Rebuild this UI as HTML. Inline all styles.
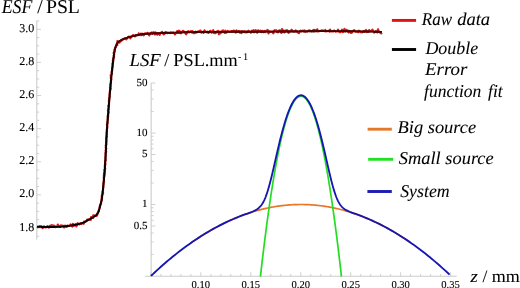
<!DOCTYPE html>
<html><head><meta charset="utf-8"><style>
html,body{margin:0;padding:0;background:#fff;}
body{width:520px;height:288px;overflow:hidden;}
svg{display:block;filter:blur(0.45px);}
text{text-rendering:geometricPrecision;font-family:"Liberation Serif","Times New Roman",serif;fill:#000;stroke:#000;stroke-width:0.12px;}
.tl{font-size:12px;}
.tl2{font-size:11px;}
.tl3{font-size:10.6px;}
.tx{stroke-width:0.06px;}
</style></head><body>
<svg width="520" height="288" viewBox="0 0 520 288">
<line x1="36.8" y1="20.4" x2="36.8" y2="239.5" stroke="#cbcbcb" stroke-width="1.1"/>
<line x1="36.8" y1="236.24" x2="39.2" y2="236.24" stroke="#cbcbcb" stroke-width="0.9"/>
<line x1="36.8" y1="227.96" x2="41" y2="227.96" stroke="#cbcbcb" stroke-width="0.9"/>
<line x1="36.8" y1="219.68" x2="39.2" y2="219.68" stroke="#cbcbcb" stroke-width="0.9"/>
<line x1="36.8" y1="211.41" x2="39.2" y2="211.41" stroke="#cbcbcb" stroke-width="0.9"/>
<line x1="36.8" y1="203.13" x2="39.2" y2="203.13" stroke="#cbcbcb" stroke-width="0.9"/>
<line x1="36.8" y1="194.85" x2="41" y2="194.85" stroke="#cbcbcb" stroke-width="0.9"/>
<line x1="36.8" y1="186.57" x2="39.2" y2="186.57" stroke="#cbcbcb" stroke-width="0.9"/>
<line x1="36.8" y1="178.29" x2="39.2" y2="178.29" stroke="#cbcbcb" stroke-width="0.9"/>
<line x1="36.8" y1="170.02" x2="39.2" y2="170.02" stroke="#cbcbcb" stroke-width="0.9"/>
<line x1="36.8" y1="161.74" x2="41" y2="161.74" stroke="#cbcbcb" stroke-width="0.9"/>
<line x1="36.8" y1="153.46" x2="39.2" y2="153.46" stroke="#cbcbcb" stroke-width="0.9"/>
<line x1="36.8" y1="145.19" x2="39.2" y2="145.19" stroke="#cbcbcb" stroke-width="0.9"/>
<line x1="36.8" y1="136.91" x2="39.2" y2="136.91" stroke="#cbcbcb" stroke-width="0.9"/>
<line x1="36.8" y1="128.63" x2="41" y2="128.63" stroke="#cbcbcb" stroke-width="0.9"/>
<line x1="36.8" y1="120.35" x2="39.2" y2="120.35" stroke="#cbcbcb" stroke-width="0.9"/>
<line x1="36.8" y1="112.08" x2="39.2" y2="112.08" stroke="#cbcbcb" stroke-width="0.9"/>
<line x1="36.8" y1="103.8" x2="39.2" y2="103.8" stroke="#cbcbcb" stroke-width="0.9"/>
<line x1="36.8" y1="95.52" x2="41" y2="95.52" stroke="#cbcbcb" stroke-width="0.9"/>
<line x1="36.8" y1="87.24" x2="39.2" y2="87.24" stroke="#cbcbcb" stroke-width="0.9"/>
<line x1="36.8" y1="78.96" x2="39.2" y2="78.96" stroke="#cbcbcb" stroke-width="0.9"/>
<line x1="36.8" y1="70.69" x2="39.2" y2="70.69" stroke="#cbcbcb" stroke-width="0.9"/>
<line x1="36.8" y1="62.41" x2="41" y2="62.41" stroke="#cbcbcb" stroke-width="0.9"/>
<line x1="36.8" y1="54.13" x2="39.2" y2="54.13" stroke="#cbcbcb" stroke-width="0.9"/>
<line x1="36.8" y1="45.85" x2="39.2" y2="45.85" stroke="#cbcbcb" stroke-width="0.9"/>
<line x1="36.8" y1="37.58" x2="39.2" y2="37.58" stroke="#cbcbcb" stroke-width="0.9"/>
<line x1="36.8" y1="29.3" x2="41" y2="29.3" stroke="#cbcbcb" stroke-width="0.9"/>
<line x1="36.8" y1="21.02" x2="39.2" y2="21.02" stroke="#cbcbcb" stroke-width="0.9"/>
<text x="34.3" y="31.9" class="tl" text-anchor="end">3.0</text>
<text x="34.3" y="65.01" class="tl" text-anchor="end">2.8</text>
<text x="34.3" y="98.12" class="tl" text-anchor="end">2.6</text>
<text x="34.3" y="131.23" class="tl" text-anchor="end">2.4</text>
<text x="34.3" y="164.34" class="tl" text-anchor="end">2.2</text>
<text x="34.3" y="197.45" class="tl" text-anchor="end">2.0</text>
<text x="34.3" y="230.56" class="tl" text-anchor="end">1.8</text>
<polyline points="37,226.8 37.81,227.1 38.6,226.61 39.39,226.08 40.19,226.49 40.99,226.03 41.8,226.99 42.61,228.16 43.4,226.52 44.2,226.42 45,227.43 45.8,227.32 46.6,227.09 47.4,226.16 48.2,226.97 49,227.62 49.79,225.78 50.6,226.57 51.39,225.26 52.19,225.8 52.98,225.29 53.8,226.72 54.58,225.77 55.4,227.14 56.2,227.02 57,226.69 57.76,224.57 58.59,226.33 59.4,226.74 60.2,226.85 60.94,225.33 61.78,226.22 62.55,225.71 63.36,225.78 64.26,227.38 64.95,225.62 65.8,226.22 66.66,226.94 67.36,225.52 68.19,225.84 69.01,225.92 69.8,225.77 70.51,224.51 71.41,225.55 72.32,226.56 72.86,223.85 73.88,225.84 74.61,225.04 75.33,224.21 76.43,226.36 77.09,225.09 77.64,223.19 78.61,224.1 79.48,224.33 80.17,223.44 81.11,223.96 81.79,223.07 82.73,223.43 83.71,223.75 84.04,221.66 85.05,221.98 85.68,221.03 86.63,221.05 87.08,219.57 88.04,219.58 88.95,219.41 90.04,219.82 90.89,219.58 91.06,217.19 91.99,217.17 93.18,217.83 93.2,215.35 94.45,215.96 95.37,215.63 96.67,215.87 97.29,214.62 97.55,213.36 97.93,212.59 98.27,211.84 98.97,211.29 98.8,210.25 99.08,209.52 99.45,208.83 99.55,208.01 99.74,207.22 99.72,206.33 100.19,205.63 100.29,204.76 100.88,204.11 100.98,203.25 101.03,202.43 101.39,201.76 101.31,200.97 101.79,200.37 101.67,199.6 101.94,198.92 101.6,198.09 102.1,197.45 101.72,196.62 101.73,195.87 102.25,195.21 102.2,194.43 102.54,193.73 103.13,193.06 102.48,192.17 102.61,191.42 102.9,190.69 103.05,189.93 102.97,189.13 103.04,188.36 103.34,187.62 103.37,186.84 103.07,186 103.38,185.25 103.48,184.47 103.3,183.64 103.69,182.91 103.49,182.09 104.01,181.39 103.89,180.6 103.94,179.84 103.84,179.07 104.02,178.34 103.63,177.53 103.91,176.81 104.33,176.1 103.79,175.27 104.58,174.61 104.01,173.78 104.67,173.1 104.34,172.3 104.8,171.59 104.7,170.82 104.35,170.02 105.08,169.34 105.18,168.59 104.87,167.79 104.87,167.03 104.95,166.27 104.8,165.5 105.36,164.8 105.01,164.02 105.18,163.3 105.04,162.57 105.13,161.86 105.02,161.15 105.67,160.52 105.37,159.81 105.69,159.15 105.5,158.43 105.36,157.71 105.49,157 105.48,156.28 105.65,155.56 105.6,154.81 105.65,154.06 105.43,153.29 105.6,152.54 106.24,151.81 105.71,150.99 105.65,150.2 106.03,149.44 106.32,148.66 105.67,147.81 106,147.02 105.94,146.19 105.7,145.34 106.35,144.56 106.2,143.7 106.26,142.86 106.1,141.98 106.43,141.14 106.23,140.25 106.37,139.37 106.18,138.45 106.2,137.54 106.86,136.69 106.46,135.72 106.7,134.81 106.67,133.88 106.62,132.94 106.65,132.03 106.98,131.16 106.81,130.25 106.9,129.4 107,128.56 107.33,127.74 107.27,126.88 107.26,126.02 107.09,125.15 106.95,124.28 107.57,123.51 107.64,122.67 107.43,121.79 107.66,120.98 107.78,120.15 107.86,119.32 107.95,118.49 107.68,117.61 108.22,116.85 107.62,115.93 108.2,115.18 108.18,114.35 108.34,113.54 108.65,112.76 108.63,111.94 108.06,111.04 108,110.21 108.67,109.49 108.3,108.63 108.61,107.86 108.89,107.1 108.36,106.22 108.32,105.41 108.96,104.7 108.97,103.91 108.97,103.11 109.11,102.34 108.96,101.52 108.87,100.7 109.26,99.95 109.14,99.12 109.04,98.3 109.63,97.57 109.56,96.74 109.74,95.95 109.47,95.1 109.62,94.3 109.61,93.48 109.7,92.68 110.03,91.9 109.87,91.06 110.21,90.28 110.28,89.47 110.76,88.71 110,87.77 110.63,87.04 110.46,86.18 110.55,85.36 110.28,84.49 110.6,83.7 110.96,82.92 110.84,82.06 110.96,81.24 110.94,80.4 111.37,79.63 111.17,78.77 110.72,77.87 111.17,77.12 110.94,76.26 110.71,75.39 111.45,74.69 111.99,73.95 111.76,73.08 111.55,72.21 111.69,71.4 112.27,70.67 112.13,69.81 112.19,68.98 112.25,68.15 112.37,67.33 112.64,66.53 112.68,65.69 112.69,64.84 112.48,63.94 112.96,63.19 112.77,62.28 113.3,61.54 112.84,60.58 113.22,59.83 113.36,59.03 113.15,58.15 114,57.51 114.05,56.67 113.7,55.73 114.11,54.97 114.14,54.1 113.55,53.04 114.37,52.36 114.44,51.45 114.64,50.56 114.55,49.52 114.95,48.71 115.22,47.87 115.81,47.23 115.93,46.28 116.21,45.4 117.33,45.23 116.75,43.54 117.31,42.77 117.41,41.02 119.38,42.65 119.95,41.69 120.72,41.21 121.44,40.59 122.11,39.75 122.93,39.48 123.63,38.77 124.44,38.5 125.29,38.42 126.35,39.38 126.98,38.3 127.67,37.51 128.39,36.81 129.19,36.53 130.31,38.24 130.95,37.07 131.69,36.48 132.44,35.92 133.15,35.06 134.07,35.8 134.98,36.45 135.64,35.17 136.46,35.15 137.26,35 138.09,35.12 138.71,33.46 139.66,34.49 140.4,33.79 141.36,35.18 142.02,33.58 142.92,34.65 143.78,35.4 144.47,33.66 145.26,33.34 146.09,33.99 146.88,33.76 147.65,32.82 148.5,34.07 149.35,35.42 150.07,33.33 150.88,33.33 151.65,32.53 152.49,33.72 153.25,32.27 154.06,32.36 154.91,34.47 155.66,32.47 156.51,34.23 157.31,34.59 158.09,33.42 158.89,33.66 159.72,34.89 160.48,32.93 161.27,32.55 162.06,31.83 162.88,33.06 163.71,34.33 164.5,33.84 165.27,32.1 166.07,32.16 166.87,32.45 167.69,33.14 168.48,32.67 169.29,33.02 170.09,33.06 170.88,32.5 171.68,32.71 172.49,32.9 173.28,32.61 174.09,33.11 174.92,34.32 175.69,33.14 176.48,32.63 177.25,31.04 178.09,32.88 178.85,30.75 179.66,31.21 180.5,33.22 181.29,33.06 182.08,32.26 182.85,30.83 183.68,32.01 184.47,31.71 185.29,32.87 186.12,34.31 186.89,32.45 187.67,31.53 188.47,31.16 189.28,32.14 190.08,32.01 190.87,31.12 191.68,32.24 192.47,31.08 193.29,33.1 194.09,33.04 194.89,33.05 195.68,31.63 196.49,32.51 197.28,31.91 198.08,31.67 198.88,31.71 199.68,30.83 200.48,30.7 201.29,32.7 202.08,31.81 202.88,32.17 203.69,32.87 204.47,30.4 205.28,31.25 206.08,32.11 206.88,32.3 207.68,31.6 208.49,32.86 209.28,32.12 210.08,30.83 210.88,31.08 211.68,32.64 212.48,32.33 213.28,30.19 214.09,33.11 214.88,32.43 215.69,33.1 216.48,31.54 217.28,31.62 218.08,30.86 218.89,34.16 219.68,31.71 220.49,33.29 221.28,31.28 222.08,32.01 222.88,30.35 223.68,31.51 224.48,32.73 225.28,30.72 226.08,32.81 226.88,32.14 227.68,30.9 228.48,31.38 229.28,31.42 230.08,31.78 230.88,31.34 231.68,31.08 232.48,31.54 233.28,30.89 234.08,30.65 234.88,31.77 235.68,32.6 236.48,30.43 237.28,31.8 238.08,31.21 238.88,30.92 239.68,32.56 240.48,31.32 241.29,33.14 242.08,31.08 242.88,32.13 243.68,31.57 244.48,31.1 245.28,32.3 246.08,31.63 246.88,32.31 247.68,31.72 248.48,30.78 249.28,31.66 250.08,31.8 250.88,32.61 251.68,30.93 252.48,31.71 253.28,30.19 254.08,32.32 254.88,30.76 255.68,30.1 256.48,31.67 257.29,32.71 258.08,30.34 258.88,30.73 259.68,31.03 260.48,30.68 261.28,32.03 262.08,30.96 262.88,31.03 263.68,32.2 264.48,30.99 265.28,32.06 266.08,30.79 266.88,30.57 267.68,30 268.49,33.32 269.28,31.35 270.08,31.85 270.88,31.6 271.68,31.77 272.48,31.66 273.29,33.33 274.08,30.67 274.88,30.2 275.68,30.68 276.48,30.39 277.29,32.26 278.09,32.32 278.88,30.71 279.68,30.31 280.48,31.24 281.29,32.8 282.07,29.01 282.88,32.01 283.68,30.57 284.49,32.46 285.28,30.55 286.08,31.26 286.88,30.15 287.68,30.62 288.49,32.74 289.29,32.23 290.08,31.12 290.88,30.69 291.67,29.77 292.48,31.11 293.28,31.43 294.08,31.37 294.88,31.36 295.68,30.43 296.48,31.37 297.28,31.39 298.09,32.58 298.89,33.09 299.68,31.28 300.48,30.71 301.28,31.33 302.08,30.83 302.88,30.7 303.68,31.31 304.48,30.42 305.29,31.89 306.08,31.24 306.88,31.55 307.68,31.15 308.48,30.65 309.28,30.44 310.08,31.07 310.88,30.78 311.68,31.47 312.48,31.25 313.27,30.01 314.08,31.29 314.87,30.01 315.68,30.65 316.48,30.93 317.27,29.32 318.08,31.26 318.88,31.31 319.68,31.02 320.48,30.77 321.28,30.81 322.08,30.26 322.88,30.89 323.68,30.63 324.48,31.2 325.28,30.03 326.08,31.32 326.88,31.24 327.68,30.98 328.48,30.71 329.28,31.6 330.08,29.6 330.88,31.51 331.68,31.32 332.48,31.36 333.28,31.45 334.08,30.52 334.88,30.88 335.68,31.69 336.48,31.51 337.28,31.31 338.08,29.77 338.88,31.62 339.69,32.2 340.49,32.06 341.28,31.37 342.07,29.76 342.89,32.02 343.68,31.05 344.47,28.91 345.28,31.54 346.07,29.87 346.87,30.05 347.68,30.66 348.49,32.38 349.28,30.92 350.08,31.5 350.9,32.84 351.69,32.72 352.48,31.2 353.28,31.09 354.07,30.18 354.88,30.7 355.69,31.72 356.49,31.71 357.28,31.46 358.09,32.27 358.88,30.69 359.68,31.35 360.49,32.07 361.29,31.94 362.09,32.4 362.89,31.8 363.68,31.18 364.49,31.8 365.27,30.59 366.06,30.03 366.89,32.04 367.68,31.49 368.49,31.83 369.26,30.04 370.08,31.26 370.87,31.07 371.67,30.85 372.45,29.62 373.28,31.37 374.09,32.49 374.89,32.05 375.67,31.19 376.48,31.74 377.29,32.45 378.04,29.31 378.88,31.7 379.69,32.32 380.49,32.47 381.31,33.41 382.08,32.92" fill="none" stroke="#e01818" stroke-width="2.2" stroke-linejoin="round"/>
<polyline points="37,226.8 37.5,226.82 38,226.83 38.5,226.85 39,226.87 39.5,226.88 40,226.9 40.5,226.91 41,226.92 41.5,226.93 42,226.94 42.5,226.95 43,226.96 43.5,226.97 44,226.98 44.5,226.98 45,226.99 45.5,226.99 46,227 46.5,227 47,227 47.5,227 48,227 48.5,227 49,227 49.5,226.99 50,226.99 50.5,226.98 51,226.98 51.5,226.97 52,226.96 52.5,226.96 53,226.95 53.5,226.94 54,226.93 54.5,226.92 55,226.91 55.5,226.89 56,226.88 56.5,226.87 57,226.86 57.5,226.84 58,226.83 58.5,226.81 59,226.8 59.5,226.78 60,226.76 60.5,226.74 61,226.7 61.5,226.67 62,226.63 62.5,226.59 63,226.55 63.5,226.5 64,226.45 64.5,226.4 65,226.34 65.5,226.28 66,226.22 66.5,226.16 67,226.09 67.5,226.03 68,225.96 68.5,225.89 69,225.82 69.5,225.76 70,225.68 70.5,225.61 71,225.54 71.5,225.47 72,225.39 72.5,225.31 73,225.22 73.5,225.14 74,225.05 74.5,224.95 75,224.85 75.5,224.75 76,224.65 76.5,224.54 77,224.42 77.5,224.31 78,224.19 78.5,224.06 79,223.93 79.5,223.8 80,223.66 80.5,223.52 81,223.37 81.5,223.22 82,223.06 82.5,222.9 83,222.72 83.5,222.52 84,222.3 84.5,222.06 85,221.81 85.5,221.55 86,221.29 86.5,221.01 87,220.72 87.5,220.44 88,220.15 88.5,219.86 89,219.57 89.5,219.28 90,219 90.5,218.72 91,218.45 91.5,218.18 92,217.91 92.5,217.63 93,217.33 93.5,217.03 94,216.71 94.5,216.37 95,216 95.5,215.62 96,215.22 96.5,214.77 97,214.24 97.5,213.6 98,212.68 98.5,211.42 99,210 99.5,208.33 100,206.39 100.5,204.4 101,202.57 101.5,200.5 102,197.58 102.5,193.75 103,189.23 103.5,184.22 104,178.91 104.5,172.96 105,166.11 105.5,158.32 106,148.24 106.5,137.38 107,128.46 107.5,121.36 108,115.05 108.5,109.2 109,103.49 109.5,97.63 110,91.74 110.5,86.01 111,80.57 111.5,75.5 112,70.64 112.5,66.04 113,61.81 113.5,58.02 114,54.39 114.5,51.19 115,48.8 115.5,47.17 116,45.88 116.5,44.8 117,43.81 117.5,42.95 118,42.3 118.5,41.82 119,41.42 119.5,41.06 120,40.75 120.5,40.47 121,40.2 121.5,39.94 122,39.7 122.5,39.47 123,39.25 123.5,39.05 124,38.85 124.5,38.66 125,38.48 125.5,38.3 126,38.12 126.5,37.95 127,37.78 127.5,37.62 128,37.46 128.5,37.31 129,37.16 129.5,37.01 130,36.87 130.5,36.73 131,36.6 131.5,36.47 132,36.34 132.5,36.22 133,36.1 133.5,35.99 134,35.87 134.5,35.76 135,35.66 135.5,35.55 136,35.45 136.5,35.35 137,35.25 137.5,35.15 138,35.04 138.5,34.94 139,34.84 139.5,34.74 140,34.64 140.5,34.54 141,34.45 141.5,34.36 142,34.27 142.5,34.19 143,34.12 143.5,34.05 144,33.99 144.5,33.94 145,33.9 145.5,33.86 146,33.82 146.5,33.79 147,33.75 147.5,33.72 148,33.69 148.5,33.66 149,33.62 149.5,33.59 150,33.56 150.5,33.54 151,33.51 151.5,33.48 152,33.46 152.5,33.43 153,33.41 153.5,33.38 154,33.36 154.5,33.34 155,33.31 155.5,33.29 156,33.27 156.5,33.25 157,33.23 157.5,33.21 158,33.19 158.5,33.18 159,33.16 159.5,33.14 160,33.12 160.5,33.1 161,33.09 161.5,33.07 162,33.05 162.5,33.04 163,33.02 163.5,33.01 164,32.99 164.5,32.98 165,32.96 165.5,32.94 166,32.93 166.5,32.91 167,32.9 167.5,32.88 168,32.87 168.5,32.85 169,32.83 169.5,32.82 170,32.8 170.5,32.78 171,32.77 171.5,32.75 172,32.73 172.5,32.72 173,32.7 173.5,32.68 174,32.66 174.5,32.65 175,32.63 175.5,32.61 176,32.6 176.5,32.58 177,32.56 177.5,32.55 178,32.53 178.5,32.51 179,32.5 179.5,32.48 180,32.46 180.5,32.45 181,32.43 181.5,32.42 182,32.4 182.5,32.38 183,32.37 183.5,32.35 184,32.34 184.5,32.32 185,32.31 185.5,32.29 186,32.28 186.5,32.27 187,32.25 187.5,32.24 188,32.22 188.5,32.21 189,32.2 189.5,32.19 190,32.17 190.5,32.16 191,32.15 191.5,32.14 192,32.13 192.5,32.12 193,32.11 193.5,32.1 194,32.09 194.5,32.08 195,32.07 195.5,32.06 196,32.05 196.5,32.04 197,32.04 197.5,32.03 198,32.02 198.5,32.02 199,32.01 199.5,32 200,32 200.5,32 201,31.99 201.5,31.99 202,31.98 202.5,31.98 203,31.97 203.5,31.97 204,31.97 204.5,31.96 205,31.96 205.5,31.95 206,31.95 206.5,31.95 207,31.94 207.5,31.94 208,31.94 208.5,31.93 209,31.93 209.5,31.93 210,31.92 210.5,31.92 211,31.92 211.5,31.91 212,31.91 212.5,31.91 213,31.9 213.5,31.9 214,31.9 214.5,31.9 215,31.89 215.5,31.89 216,31.89 216.5,31.89 217,31.88 217.5,31.88 218,31.88 218.5,31.88 219,31.87 219.5,31.87 220,31.87 220.5,31.87 221,31.86 221.5,31.86 222,31.86 222.5,31.86 223,31.85 223.5,31.85 224,31.85 224.5,31.85 225,31.85 225.5,31.84 226,31.84 226.5,31.84 227,31.84 227.5,31.84 228,31.83 228.5,31.83 229,31.83 229.5,31.83 230,31.83 230.5,31.83 231,31.82 231.5,31.82 232,31.82 232.5,31.82 233,31.82 233.5,31.81 234,31.81 234.5,31.81 235,31.81 235.5,31.81 236,31.81 236.5,31.8 237,31.8 237.5,31.8 238,31.8 238.5,31.8 239,31.79 239.5,31.79 240,31.79 240.5,31.79 241,31.79 241.5,31.79 242,31.78 242.5,31.78 243,31.78 243.5,31.78 244,31.78 244.5,31.77 245,31.77 245.5,31.77 246,31.77 246.5,31.77 247,31.76 247.5,31.76 248,31.76 248.5,31.76 249,31.76 249.5,31.75 250,31.75 250.5,31.75 251,31.75 251.5,31.75 252,31.74 252.5,31.74 253,31.74 253.5,31.74 254,31.73 254.5,31.73 255,31.73 255.5,31.73 256,31.72 256.5,31.72 257,31.72 257.5,31.71 258,31.71 258.5,31.71 259,31.71 259.5,31.7 260,31.7 260.5,31.7 261,31.69 261.5,31.69 262,31.69 262.5,31.68 263,31.68 263.5,31.68 264,31.68 264.5,31.67 265,31.67 265.5,31.67 266,31.66 266.5,31.66 267,31.66 267.5,31.65 268,31.65 268.5,31.65 269,31.64 269.5,31.64 270,31.64 270.5,31.63 271,31.63 271.5,31.62 272,31.62 272.5,31.62 273,31.61 273.5,31.61 274,31.61 274.5,31.6 275,31.6 275.5,31.6 276,31.59 276.5,31.59 277,31.59 277.5,31.58 278,31.58 278.5,31.57 279,31.57 279.5,31.57 280,31.56 280.5,31.56 281,31.56 281.5,31.55 282,31.55 282.5,31.54 283,31.54 283.5,31.54 284,31.53 284.5,31.53 285,31.52 285.5,31.52 286,31.52 286.5,31.51 287,31.51 287.5,31.5 288,31.5 288.5,31.5 289,31.49 289.5,31.49 290,31.48 290.5,31.48 291,31.48 291.5,31.47 292,31.47 292.5,31.46 293,31.46 293.5,31.46 294,31.45 294.5,31.45 295,31.44 295.5,31.44 296,31.43 296.5,31.43 297,31.43 297.5,31.42 298,31.42 298.5,31.41 299,31.41 299.5,31.4 300,31.4 300.5,31.4 301,31.39 301.5,31.39 302,31.38 302.5,31.38 303,31.37 303.5,31.37 304,31.36 304.5,31.35 305,31.35 305.5,31.34 306,31.34 306.5,31.33 307,31.32 307.5,31.32 308,31.31 308.5,31.3 309,31.3 309.5,31.29 310,31.28 310.5,31.28 311,31.27 311.5,31.26 312,31.26 312.5,31.25 313,31.24 313.5,31.24 314,31.23 314.5,31.22 315,31.22 315.5,31.21 316,31.2 316.5,31.2 317,31.19 317.5,31.19 318,31.18 318.5,31.17 319,31.17 319.5,31.16 320,31.16 320.5,31.15 321,31.15 321.5,31.14 322,31.14 322.5,31.13 323,31.13 323.5,31.13 324,31.12 324.5,31.12 325,31.12 325.5,31.11 326,31.11 326.5,31.11 327,31.11 327.5,31.1 328,31.1 328.5,31.1 329,31.1 329.5,31.1 330,31.1 330.5,31.1 331,31.1 331.5,31.1 332,31.1 332.5,31.1 333,31.1 333.5,31.11 334,31.11 334.5,31.11 335,31.11 335.5,31.11 336,31.12 336.5,31.12 337,31.12 337.5,31.13 338,31.13 338.5,31.13 339,31.14 339.5,31.14 340,31.15 340.5,31.15 341,31.16 341.5,31.16 342,31.16 342.5,31.17 343,31.17 343.5,31.18 344,31.19 344.5,31.19 345,31.2 345.5,31.2 346,31.21 346.5,31.21 347,31.22 347.5,31.23 348,31.23 348.5,31.24 349,31.25 349.5,31.25 350,31.26 350.5,31.27 351,31.27 351.5,31.28 352,31.29 352.5,31.29 353,31.3 353.5,31.31 354,31.31 354.5,31.32 355,31.33 355.5,31.34 356,31.34 356.5,31.35 357,31.36 357.5,31.36 358,31.37 358.5,31.38 359,31.39 359.5,31.39 360,31.4 360.5,31.41 361,31.41 361.5,31.42 362,31.43 362.5,31.44 363,31.45 363.5,31.46 364,31.46 364.5,31.47 365,31.48 365.5,31.49 366,31.5 366.5,31.51 367,31.52 367.5,31.53 368,31.54 368.5,31.55 369,31.57 369.5,31.58 370,31.59 370.5,31.6 371,31.61 371.5,31.62 372,31.64 372.5,31.65 373,31.66 373.5,31.67 374,31.68 374.5,31.7 375,31.71 375.5,31.72 376,31.74 376.5,31.75 377,31.76 377.5,31.78 378,31.79 378.5,31.8 379,31.82 379.5,31.83 380,31.84 380.5,31.86 381,31.87 381.5,31.89 382,31.9" fill="none" stroke="#000" stroke-width="1.9" stroke-linejoin="round"/>
<polyline points="114,54.39 114.5,51.19 115,48.8 115.5,47.17 116,45.88 116.5,44.8 117,43.81 117.5,42.95 118,42.3 118.5,41.82 119,41.42 119.5,41.06 120,40.75 120.5,40.47 121,40.2 121.5,39.94 122,39.7 122.5,39.47 123,39.25 123.5,39.05 124,38.85 124.5,38.66 125,38.48 125.5,38.3 126,38.12 126.5,37.95 127,37.78 127.5,37.62 128,37.46 128.5,37.31 129,37.16 129.5,37.01 130,36.87 130.5,36.73 131,36.6 131.5,36.47 132,36.34 132.5,36.22 133,36.1 133.5,35.99 134,35.87 134.5,35.76 135,35.66 135.5,35.55 136,35.45 136.5,35.35 137,35.25 137.5,35.15 138,35.04 138.5,34.94 139,34.84 139.5,34.74 140,34.64 140.5,34.54 141,34.45 141.5,34.36 142,34.27 142.5,34.19 143,34.12 143.5,34.05 144,33.99 144.5,33.94 145,33.9 145.5,33.86 146,33.82 146.5,33.79 147,33.75 147.5,33.72 148,33.69 148.5,33.66 149,33.62 149.5,33.59 150,33.56 150.5,33.54 151,33.51 151.5,33.48 152,33.46 152.5,33.43 153,33.41 153.5,33.38 154,33.36 154.5,33.34 155,33.31 155.5,33.29 156,33.27 156.5,33.25 157,33.23 157.5,33.21 158,33.19 158.5,33.18 159,33.16 159.5,33.14 160,33.12 160.5,33.1 161,33.09 161.5,33.07 162,33.05 162.5,33.04 163,33.02 163.5,33.01 164,32.99 164.5,32.98 165,32.96 165.5,32.94 166,32.93 166.5,32.91 167,32.9 167.5,32.88 168,32.87 168.5,32.85 169,32.83 169.5,32.82 170,32.8 170.5,32.78 171,32.77 171.5,32.75 172,32.73 172.5,32.72 173,32.7 173.5,32.68 174,32.66 174.5,32.65 175,32.63 175.5,32.61 176,32.6 176.5,32.58 177,32.56 177.5,32.55 178,32.53 178.5,32.51 179,32.5 179.5,32.48 180,32.46 180.5,32.45 181,32.43 181.5,32.42 182,32.4 182.5,32.38 183,32.37 183.5,32.35 184,32.34 184.5,32.32 185,32.31 185.5,32.29 186,32.28 186.5,32.27 187,32.25 187.5,32.24 188,32.22 188.5,32.21 189,32.2 189.5,32.19 190,32.17 190.5,32.16 191,32.15 191.5,32.14 192,32.13 192.5,32.12 193,32.11 193.5,32.1 194,32.09 194.5,32.08 195,32.07 195.5,32.06 196,32.05 196.5,32.04 197,32.04 197.5,32.03 198,32.02 198.5,32.02 199,32.01 199.5,32 200,32 200.5,32 201,31.99 201.5,31.99 202,31.98 202.5,31.98 203,31.97 203.5,31.97 204,31.97 204.5,31.96 205,31.96 205.5,31.95 206,31.95 206.5,31.95 207,31.94 207.5,31.94 208,31.94 208.5,31.93 209,31.93 209.5,31.93 210,31.92 210.5,31.92 211,31.92 211.5,31.91 212,31.91 212.5,31.91 213,31.9 213.5,31.9 214,31.9 214.5,31.9 215,31.89 215.5,31.89 216,31.89 216.5,31.89 217,31.88 217.5,31.88 218,31.88 218.5,31.88 219,31.87 219.5,31.87 220,31.87 220.5,31.87 221,31.86 221.5,31.86 222,31.86 222.5,31.86 223,31.85 223.5,31.85 224,31.85 224.5,31.85 225,31.85 225.5,31.84 226,31.84 226.5,31.84 227,31.84 227.5,31.84 228,31.83 228.5,31.83 229,31.83 229.5,31.83 230,31.83 230.5,31.83 231,31.82 231.5,31.82 232,31.82 232.5,31.82 233,31.82 233.5,31.81 234,31.81 234.5,31.81 235,31.81 235.5,31.81 236,31.81 236.5,31.8 237,31.8 237.5,31.8 238,31.8 238.5,31.8 239,31.79 239.5,31.79 240,31.79 240.5,31.79 241,31.79 241.5,31.79 242,31.78 242.5,31.78 243,31.78 243.5,31.78 244,31.78 244.5,31.77 245,31.77 245.5,31.77 246,31.77 246.5,31.77 247,31.76 247.5,31.76 248,31.76 248.5,31.76 249,31.76 249.5,31.75 250,31.75 250.5,31.75 251,31.75 251.5,31.75 252,31.74 252.5,31.74 253,31.74 253.5,31.74 254,31.73 254.5,31.73 255,31.73 255.5,31.73 256,31.72 256.5,31.72 257,31.72 257.5,31.71 258,31.71 258.5,31.71 259,31.71 259.5,31.7 260,31.7 260.5,31.7 261,31.69 261.5,31.69 262,31.69 262.5,31.68 263,31.68 263.5,31.68 264,31.68 264.5,31.67 265,31.67 265.5,31.67 266,31.66 266.5,31.66 267,31.66 267.5,31.65 268,31.65 268.5,31.65 269,31.64 269.5,31.64 270,31.64 270.5,31.63 271,31.63 271.5,31.62 272,31.62 272.5,31.62 273,31.61 273.5,31.61 274,31.61 274.5,31.6 275,31.6 275.5,31.6 276,31.59 276.5,31.59 277,31.59 277.5,31.58 278,31.58 278.5,31.57 279,31.57 279.5,31.57 280,31.56 280.5,31.56 281,31.56 281.5,31.55 282,31.55 282.5,31.54 283,31.54 283.5,31.54 284,31.53 284.5,31.53 285,31.52 285.5,31.52 286,31.52 286.5,31.51 287,31.51 287.5,31.5 288,31.5 288.5,31.5 289,31.49 289.5,31.49 290,31.48 290.5,31.48 291,31.48 291.5,31.47 292,31.47 292.5,31.46 293,31.46 293.5,31.46 294,31.45 294.5,31.45 295,31.44 295.5,31.44 296,31.43 296.5,31.43 297,31.43 297.5,31.42 298,31.42 298.5,31.41 299,31.41 299.5,31.4 300,31.4 300.5,31.4 301,31.39 301.5,31.39 302,31.38 302.5,31.38 303,31.37 303.5,31.37 304,31.36 304.5,31.35 305,31.35 305.5,31.34 306,31.34 306.5,31.33 307,31.32 307.5,31.32 308,31.31 308.5,31.3 309,31.3 309.5,31.29 310,31.28 310.5,31.28 311,31.27 311.5,31.26 312,31.26 312.5,31.25 313,31.24 313.5,31.24 314,31.23 314.5,31.22 315,31.22 315.5,31.21 316,31.2 316.5,31.2 317,31.19 317.5,31.19 318,31.18 318.5,31.17 319,31.17 319.5,31.16 320,31.16 320.5,31.15 321,31.15 321.5,31.14 322,31.14 322.5,31.13 323,31.13 323.5,31.13 324,31.12 324.5,31.12 325,31.12 325.5,31.11 326,31.11 326.5,31.11 327,31.11 327.5,31.1 328,31.1 328.5,31.1 329,31.1 329.5,31.1 330,31.1 330.5,31.1 331,31.1 331.5,31.1 332,31.1 332.5,31.1 333,31.1 333.5,31.11 334,31.11 334.5,31.11 335,31.11 335.5,31.11 336,31.12 336.5,31.12 337,31.12 337.5,31.13 338,31.13 338.5,31.13 339,31.14 339.5,31.14 340,31.15 340.5,31.15 341,31.16 341.5,31.16 342,31.16 342.5,31.17 343,31.17 343.5,31.18 344,31.19 344.5,31.19 345,31.2 345.5,31.2 346,31.21 346.5,31.21 347,31.22 347.5,31.23 348,31.23 348.5,31.24 349,31.25 349.5,31.25 350,31.26 350.5,31.27 351,31.27 351.5,31.28 352,31.29 352.5,31.29 353,31.3 353.5,31.31 354,31.31 354.5,31.32 355,31.33 355.5,31.34 356,31.34 356.5,31.35 357,31.36 357.5,31.36 358,31.37 358.5,31.38 359,31.39 359.5,31.39 360,31.4 360.5,31.41 361,31.41 361.5,31.42 362,31.43 362.5,31.44 363,31.45 363.5,31.46 364,31.46 364.5,31.47 365,31.48 365.5,31.49 366,31.5 366.5,31.51 367,31.52 367.5,31.53 368,31.54 368.5,31.55 369,31.57 369.5,31.58 370,31.59 370.5,31.6 371,31.61 371.5,31.62 372,31.64 372.5,31.65 373,31.66 373.5,31.67 374,31.68 374.5,31.7 375,31.71 375.5,31.72 376,31.74 376.5,31.75 377,31.76 377.5,31.78 378,31.79 378.5,31.8 379,31.82 379.5,31.83 380,31.84 380.5,31.86 381,31.87 381.5,31.89 382,31.9" fill="none" stroke="#c00000" stroke-opacity="0.45" stroke-width="1.4" stroke-linejoin="round"/>
<line x1="151.15" y1="83" x2="151.15" y2="276.3" stroke="#cbcbcb" stroke-width="1.1"/>
<line x1="145" y1="276.3" x2="456.7" y2="276.3" stroke="#cbcbcb" stroke-width="1.1"/>
<line x1="151.15" y1="276" x2="153.55" y2="276" stroke="#cbcbcb" stroke-width="0.9"/>
<line x1="151.15" y1="254.48" x2="153.55" y2="254.48" stroke="#cbcbcb" stroke-width="0.9"/>
<line x1="151.15" y1="241.89" x2="153.55" y2="241.89" stroke="#cbcbcb" stroke-width="0.9"/>
<line x1="151.15" y1="232.95" x2="153.55" y2="232.95" stroke="#cbcbcb" stroke-width="0.9"/>
<line x1="151.15" y1="226.02" x2="155.35" y2="226.02" stroke="#cbcbcb" stroke-width="0.9"/>
<line x1="151.15" y1="220.36" x2="153.55" y2="220.36" stroke="#cbcbcb" stroke-width="0.9"/>
<line x1="151.15" y1="215.58" x2="153.55" y2="215.58" stroke="#cbcbcb" stroke-width="0.9"/>
<line x1="151.15" y1="211.43" x2="153.55" y2="211.43" stroke="#cbcbcb" stroke-width="0.9"/>
<line x1="151.15" y1="207.77" x2="153.55" y2="207.77" stroke="#cbcbcb" stroke-width="0.9"/>
<line x1="151.15" y1="204.5" x2="155.35" y2="204.5" stroke="#cbcbcb" stroke-width="0.9"/>
<line x1="151.15" y1="182.98" x2="153.55" y2="182.98" stroke="#cbcbcb" stroke-width="0.9"/>
<line x1="151.15" y1="170.39" x2="153.55" y2="170.39" stroke="#cbcbcb" stroke-width="0.9"/>
<line x1="151.15" y1="161.45" x2="153.55" y2="161.45" stroke="#cbcbcb" stroke-width="0.9"/>
<line x1="151.15" y1="154.52" x2="155.35" y2="154.52" stroke="#cbcbcb" stroke-width="0.9"/>
<line x1="151.15" y1="148.86" x2="153.55" y2="148.86" stroke="#cbcbcb" stroke-width="0.9"/>
<line x1="151.15" y1="144.08" x2="153.55" y2="144.08" stroke="#cbcbcb" stroke-width="0.9"/>
<line x1="151.15" y1="139.93" x2="153.55" y2="139.93" stroke="#cbcbcb" stroke-width="0.9"/>
<line x1="151.15" y1="136.27" x2="153.55" y2="136.27" stroke="#cbcbcb" stroke-width="0.9"/>
<line x1="151.15" y1="133" x2="155.35" y2="133" stroke="#cbcbcb" stroke-width="0.9"/>
<line x1="151.15" y1="111.48" x2="153.55" y2="111.48" stroke="#cbcbcb" stroke-width="0.9"/>
<line x1="151.15" y1="98.89" x2="153.55" y2="98.89" stroke="#cbcbcb" stroke-width="0.9"/>
<line x1="151.15" y1="89.95" x2="153.55" y2="89.95" stroke="#cbcbcb" stroke-width="0.9"/>
<line x1="151.15" y1="83.02" x2="155.35" y2="83.02" stroke="#cbcbcb" stroke-width="0.9"/>
<text x="147.5" y="85.92" class="tl2" text-anchor="end">50</text>
<text x="147.5" y="135.9" class="tl2" text-anchor="end">10</text>
<text x="147.5" y="157.42" class="tl2" text-anchor="end">5</text>
<text x="147.5" y="207.4" class="tl2" text-anchor="end">1</text>
<text x="147.5" y="228.92" class="tl2" text-anchor="end">0.5</text>
<line x1="150.9" y1="276.3" x2="150.9" y2="272.3" stroke="#cbcbcb" stroke-width="0.9"/>
<line x1="160.89" y1="276.3" x2="160.89" y2="274" stroke="#cbcbcb" stroke-width="0.9"/>
<line x1="170.88" y1="276.3" x2="170.88" y2="274" stroke="#cbcbcb" stroke-width="0.9"/>
<line x1="180.87" y1="276.3" x2="180.87" y2="274" stroke="#cbcbcb" stroke-width="0.9"/>
<line x1="190.86" y1="276.3" x2="190.86" y2="274" stroke="#cbcbcb" stroke-width="0.9"/>
<line x1="200.85" y1="276.3" x2="200.85" y2="272.3" stroke="#cbcbcb" stroke-width="0.9"/>
<line x1="210.84" y1="276.3" x2="210.84" y2="274" stroke="#cbcbcb" stroke-width="0.9"/>
<line x1="220.83" y1="276.3" x2="220.83" y2="274" stroke="#cbcbcb" stroke-width="0.9"/>
<line x1="230.82" y1="276.3" x2="230.82" y2="274" stroke="#cbcbcb" stroke-width="0.9"/>
<line x1="240.81" y1="276.3" x2="240.81" y2="274" stroke="#cbcbcb" stroke-width="0.9"/>
<line x1="250.8" y1="276.3" x2="250.8" y2="272.3" stroke="#cbcbcb" stroke-width="0.9"/>
<line x1="260.79" y1="276.3" x2="260.79" y2="274" stroke="#cbcbcb" stroke-width="0.9"/>
<line x1="270.78" y1="276.3" x2="270.78" y2="274" stroke="#cbcbcb" stroke-width="0.9"/>
<line x1="280.77" y1="276.3" x2="280.77" y2="274" stroke="#cbcbcb" stroke-width="0.9"/>
<line x1="290.76" y1="276.3" x2="290.76" y2="274" stroke="#cbcbcb" stroke-width="0.9"/>
<line x1="300.75" y1="276.3" x2="300.75" y2="272.3" stroke="#cbcbcb" stroke-width="0.9"/>
<line x1="310.74" y1="276.3" x2="310.74" y2="274" stroke="#cbcbcb" stroke-width="0.9"/>
<line x1="320.73" y1="276.3" x2="320.73" y2="274" stroke="#cbcbcb" stroke-width="0.9"/>
<line x1="330.72" y1="276.3" x2="330.72" y2="274" stroke="#cbcbcb" stroke-width="0.9"/>
<line x1="340.71" y1="276.3" x2="340.71" y2="274" stroke="#cbcbcb" stroke-width="0.9"/>
<line x1="350.7" y1="276.3" x2="350.7" y2="272.3" stroke="#cbcbcb" stroke-width="0.9"/>
<line x1="360.69" y1="276.3" x2="360.69" y2="274" stroke="#cbcbcb" stroke-width="0.9"/>
<line x1="370.68" y1="276.3" x2="370.68" y2="274" stroke="#cbcbcb" stroke-width="0.9"/>
<line x1="380.67" y1="276.3" x2="380.67" y2="274" stroke="#cbcbcb" stroke-width="0.9"/>
<line x1="390.66" y1="276.3" x2="390.66" y2="274" stroke="#cbcbcb" stroke-width="0.9"/>
<line x1="400.65" y1="276.3" x2="400.65" y2="272.3" stroke="#cbcbcb" stroke-width="0.9"/>
<line x1="410.64" y1="276.3" x2="410.64" y2="274" stroke="#cbcbcb" stroke-width="0.9"/>
<line x1="420.63" y1="276.3" x2="420.63" y2="274" stroke="#cbcbcb" stroke-width="0.9"/>
<line x1="430.62" y1="276.3" x2="430.62" y2="274" stroke="#cbcbcb" stroke-width="0.9"/>
<line x1="440.61" y1="276.3" x2="440.61" y2="274" stroke="#cbcbcb" stroke-width="0.9"/>
<line x1="450.6" y1="276.3" x2="450.6" y2="272.3" stroke="#cbcbcb" stroke-width="0.9"/>
<text x="200.85" y="287.6" class="tl3" text-anchor="middle">0.10</text>
<text x="250.8" y="287.6" class="tl3" text-anchor="middle">0.15</text>
<text x="300.75" y="287.6" class="tl3" text-anchor="middle">0.20</text>
<text x="350.7" y="287.6" class="tl3" text-anchor="middle">0.25</text>
<text x="400.65" y="287.6" class="tl3" text-anchor="middle">0.30</text>
<text x="450.6" y="287.6" class="tl3" text-anchor="middle">0.35</text>
<clipPath id="lc"><rect x="150" y="60" width="310" height="216.5"/></clipPath>
<polyline clip-path="url(#lc)" points="190.86,242.98 191.86,242.28 192.86,241.6 193.86,240.91 194.86,240.24 195.86,239.57 196.85,238.9 197.85,238.25 198.85,237.6 199.85,236.95 200.85,236.31 201.85,235.68 202.85,235.06 203.85,234.44 204.85,233.82 205.85,233.22 206.84,232.62 207.84,232.02 208.84,231.44 209.84,230.85 210.84,230.28 211.84,229.71 212.84,229.15 213.84,228.59 214.84,228.04 215.84,227.5 216.83,226.96 217.83,226.43 218.83,225.91 219.83,225.39 220.83,224.88 221.83,224.38 222.83,223.88 223.83,223.38 224.83,222.9 225.83,222.42 226.82,221.95 227.82,221.48 228.82,221.02 229.82,220.56 230.82,220.11 231.82,219.67 232.82,219.24 233.82,218.81 234.82,218.39 235.82,217.97 236.81,217.56 237.81,217.16 238.81,216.76 239.81,216.37 240.81,215.98 241.81,215.6 242.81,215.23 243.81,214.87 244.81,214.51 245.81,214.15 246.8,213.81 247.8,213.47 248.8,213.13 249.8,212.81 250.8,212.48 251.8,212.17 252.8,211.86 253.8,211.56 254.8,211.26 255.8,210.97 256.79,210.69 257.79,210.41 258.79,210.14 259.79,209.88 260.79,209.62 261.79,209.37 262.79,209.12 263.79,208.88 264.79,208.65 265.79,208.43 266.78,208.21 267.78,207.99 268.78,207.79 269.78,207.58 270.78,207.39 271.78,207.2 272.78,207.02 273.78,206.84 274.78,206.68 275.78,206.51 276.77,206.36 277.77,206.21 278.77,206.06 279.77,205.92 280.77,205.79 281.77,205.67 282.77,205.55 283.77,205.44 284.77,205.33 285.77,205.23 286.76,205.14 287.76,205.05 288.76,204.97 289.76,204.9 290.76,204.83 291.76,204.77 292.76,204.71 293.76,204.66 294.76,204.62 295.76,204.59 296.75,204.56 297.75,204.53 298.75,204.52 299.75,204.5 300.75,204.5 301.75,204.5 302.75,204.51 303.75,204.52 304.75,204.55 305.75,204.57 306.74,204.61 307.74,204.65 308.74,204.69 309.74,204.75 310.74,204.8 311.74,204.87 312.74,204.94 313.74,205.02 314.74,205.1 315.74,205.19 316.73,205.29 317.73,205.39 318.73,205.5 319.73,205.62 320.73,205.74 321.73,205.87 322.73,206.01 323.73,206.15 324.73,206.29 325.73,206.45 326.72,206.61 327.72,206.78 328.72,206.95 329.72,207.13 330.72,207.31 331.72,207.51 332.72,207.7 333.72,207.91 334.72,208.12 335.72,208.34 336.71,208.56 337.71,208.79 338.71,209.03 339.71,209.27 340.71,209.52 341.71,209.77 342.71,210.04 343.71,210.3 344.71,210.58 345.71,210.86 346.7,211.15 347.7,211.44 348.7,211.74 349.7,212.05 350.7,212.36 351.7,212.68 352.7,213 353.7,213.33 354.7,213.67 355.7,214.02 356.69,214.37 357.69,214.72 358.69,215.09 359.69,215.46 360.69,215.83 361.69,216.21 362.69,216.6 363.69,217 364.69,217.4 365.69,217.8 366.68,218.22 367.68,218.64 368.68,219.07 369.68,219.5 370.68,219.94 371.68,220.38 372.68,220.83 373.68,221.29 374.68,221.76 375.68,222.23 376.67,222.71 377.67,223.19 378.67,223.68 379.67,224.18 380.67,224.68 381.67,225.19 382.67,225.7 383.67,226.22 384.67,226.75 385.67,227.29 386.66,227.83 387.66,228.37 388.66,228.93 389.66,229.49 390.66,230.05 391.66,230.62 392.66,231.2 393.66,231.79 394.66,232.38 395.66,232.98 396.65,233.58 397.65,234.19 398.65,234.81 399.65,235.43 400.65,236.06 401.65,236.69 402.65,237.34 403.65,237.99 404.65,238.64 405.65,239.3 406.64,239.97 407.64,240.64 408.64,241.32 409.64,242.01 410.64,242.7" fill="none" stroke="#e8772a" stroke-width="1.7"/>
<polyline clip-path="url(#lc)" points="255.8,320.21 256.29,315.28 256.79,310.41 257.29,305.59 257.79,300.82 258.29,296.11 258.79,291.46 259.29,286.86 259.79,282.32 260.29,277.83 260.79,273.39 261.29,269.01 261.79,264.69 262.29,260.42 262.79,256.2 263.29,252.04 263.79,247.93 264.29,243.88 264.79,239.89 265.29,235.94 265.79,232.06 266.28,228.23 266.78,224.45 267.28,220.73 267.78,217.06 268.28,213.45 268.78,209.89 269.28,206.39 269.78,202.94 270.28,199.54 270.78,196.21 271.28,192.92 271.78,189.69 272.28,186.52 272.78,183.4 273.28,180.34 273.78,177.33 274.28,174.37 274.78,171.47 275.28,168.63 275.77,165.84 276.27,163.1 276.77,160.42 277.27,157.79 277.77,155.22 278.27,152.71 278.77,150.24 279.27,147.84 279.77,145.49 280.27,143.19 280.77,140.95 281.27,138.76 281.77,136.63 282.27,134.55 282.77,132.53 283.27,130.56 283.77,128.65 284.27,126.79 284.77,124.98 285.27,123.23 285.76,121.54 286.26,119.9 286.76,118.32 287.26,116.79 287.76,115.31 288.26,113.89 288.76,112.53 289.26,111.22 289.76,109.96 290.26,108.76 290.76,107.62 291.26,106.53 291.76,105.49 292.26,104.51 292.76,103.58 293.26,102.71 293.76,101.89 294.26,101.13 294.76,100.42 295.26,99.77 295.75,99.17 296.25,98.63 296.75,98.14 297.25,97.71 297.75,97.33 298.25,97.01 298.75,96.74 299.25,96.53 299.75,96.37 300.25,96.26 300.75,96.21 301.25,96.22 301.75,96.28 302.25,96.4 302.75,96.57 303.25,96.79 303.75,97.07 304.25,97.4 304.75,97.79 305.25,98.24 305.75,98.74 306.24,99.29 306.74,99.9 307.24,100.56 307.74,101.28 308.24,102.05 308.74,102.88 309.24,103.76 309.74,104.7 310.24,105.69 310.74,106.74 311.24,107.84 311.74,109 312.24,110.21 312.74,111.48 313.24,112.8 313.74,114.17 314.24,115.6 314.74,117.09 315.24,118.63 315.74,120.23 316.23,121.88 316.73,123.58 317.23,125.34 317.73,127.15 318.23,129.02 318.73,130.95 319.23,132.93 319.73,134.96 320.23,137.05 320.73,139.19 321.23,141.39 321.73,143.64 322.23,145.95 322.73,148.31 323.23,150.73 323.73,153.2 324.23,155.73 324.73,158.31 325.23,160.95 325.73,163.64 326.22,166.39 326.72,169.19 327.22,172.05 327.72,174.96 328.22,177.92 328.72,180.94 329.22,184.02 329.72,187.15 330.22,190.33 330.72,193.57 331.22,196.87 331.72,200.22 332.22,203.62 332.72,207.08 333.22,210.6 333.72,214.16 334.22,217.79 334.72,221.47 335.22,225.2 335.72,228.99 336.21,232.83 336.71,236.73 337.21,240.68 337.71,244.69 338.21,248.75 338.71,252.87 339.21,257.04 339.71,261.27 340.21,265.55 340.71,269.88 341.21,274.27 341.71,278.72 342.21,283.22 342.71,287.78 343.21,292.39 343.71,297.05 344.21,301.77 344.71,306.55 345.21,311.38 345.71,316.26 346.2,321.2 346.7,326.19 347.2,331.24 347.7,336.35 348.2,341.5 348.7,346.72 349.2,351.99 349.7,357.31 350.2,362.69 350.7,368.12" fill="none" stroke="#22dd22" stroke-width="1.7"/>
<polyline clip-path="url(#lc)" points="150.9,275.98 152.9,274.09 154.9,272.23 156.89,270.39 158.89,268.57 160.89,266.78 162.89,265.02 164.89,263.28 166.88,261.56 168.88,259.88 170.88,258.21 172.88,256.58 174.88,254.96 176.87,253.38 178.87,251.82 180.87,250.28 182.87,248.77 184.87,247.28 186.86,245.82 188.86,244.39 190.86,242.98 192.86,241.6 194.86,240.24 196.85,238.9 198.85,237.6 200.85,236.31 202.85,235.06 204.85,233.82 206.84,232.62 208.84,231.44 210.84,230.28 212.84,229.15 214.84,228.04 216.83,226.96 218.83,225.91 220.83,224.88 222.83,223.88 224.83,222.9 226.82,221.95 228.82,221.02 230.82,220.11 232.82,219.24 234.82,218.39 236.81,217.56 238.81,216.76 240.81,215.98 242.81,215.22 244.81,214.49 246.8,213.77 248.8,213.05 250.8,212.31 252.8,211.51 254.8,210.6 256.79,209.46 258.79,207.96 260.79,205.87 261.29,205.23 261.79,204.54 262.29,203.78 262.79,202.96 263.29,202.07 263.79,201.11 264.29,200.08 264.79,198.97 265.29,197.79 265.79,196.52 266.28,195.18 266.78,193.75 267.28,192.25 267.78,190.67 268.28,189.02 268.78,187.3 269.28,185.5 269.78,183.65 270.28,181.74 270.78,179.77 271.28,177.76 271.78,175.71 272.28,173.61 272.78,171.49 273.28,169.35 273.78,167.18 274.28,165 274.78,162.81 275.28,160.61 275.77,158.42 276.27,156.23 276.77,154.05 277.27,151.88 277.77,149.73 278.27,147.59 278.77,145.48 279.27,143.4 279.77,141.34 280.27,139.31 280.77,137.32 281.27,135.36 281.77,133.44 282.27,131.55 282.77,129.7 283.27,127.9 283.77,126.13 284.27,124.41 284.77,122.73 285.27,121.1 285.76,119.51 286.26,117.97 286.76,116.48 287.26,115.03 287.76,113.63 288.26,112.29 288.76,110.99 289.26,109.74 289.76,108.54 290.26,107.39 290.76,106.29 291.26,105.24 291.76,104.25 292.26,103.3 292.76,102.41 293.26,101.57 293.76,100.78 294.26,100.04 294.76,99.36 295.26,98.73 295.75,98.15 296.25,97.62 296.75,97.15 297.25,96.73 297.75,96.36 298.25,96.05 298.75,95.79 299.25,95.58 299.75,95.43 300.25,95.33 300.75,95.28 301.25,95.28 301.75,95.34 302.25,95.45 302.75,95.62 303.25,95.84 303.75,96.11 304.25,96.43 304.75,96.81 305.25,97.24 305.75,97.72 306.24,98.26 306.74,98.85 307.24,99.49 307.74,100.19 308.24,100.93 308.74,101.73 309.24,102.58 309.74,103.49 310.24,104.44 310.74,105.45 311.24,106.5 311.74,107.61 312.24,108.77 312.74,109.98 313.24,111.24 313.74,112.55 314.24,113.91 314.74,115.32 315.24,116.77 315.74,118.28 316.23,119.83 316.73,121.42 317.23,123.06 317.73,124.75 318.23,126.48 318.73,128.25 319.23,130.07 319.73,131.92 320.23,133.82 320.73,135.75 321.23,137.72 321.73,139.72 322.23,141.75 322.73,143.81 323.23,145.9 323.73,148.02 324.23,150.16 324.73,152.31 325.23,154.48 325.73,156.67 326.22,158.86 326.72,161.05 327.22,163.25 327.72,165.43 328.22,167.61 328.72,169.78 329.22,171.92 329.72,174.04 330.22,176.12 330.72,178.17 331.22,180.17 331.72,182.13 332.22,184.03 332.72,185.87 333.22,187.65 333.72,189.36 334.22,190.99 334.72,192.56 335.22,194.04 335.72,195.45 336.21,196.78 336.71,198.03 337.21,199.2 337.71,200.29 338.21,201.31 338.71,202.26 339.21,203.13 339.71,203.94 340.21,204.68 340.71,205.37 341.21,205.99 341.71,206.57 342.21,207.11 342.71,207.59 343.21,208.04 343.71,208.46 344.21,208.84 344.71,209.2 345.21,209.53 345.71,209.83 347.7,210.89 349.7,211.76 351.7,212.53 353.7,213.26 355.7,213.98 357.69,214.71 359.69,215.45 361.69,216.21 363.69,217 365.69,217.8 367.68,218.64 369.68,219.5 371.68,220.38 373.68,221.29 375.68,222.23 377.67,223.19 379.67,224.18 381.67,225.19 383.67,226.22 385.67,227.29 387.66,228.37 389.66,229.49 391.66,230.62 393.66,231.79 395.66,232.98 397.65,234.19 399.65,235.43 401.65,236.69 403.65,237.99 405.65,239.3 407.64,240.64 409.64,242.01 411.64,243.4 413.64,244.82 415.64,246.26 417.63,247.73 419.63,249.22 421.63,250.74 423.63,252.28 425.63,253.85 427.62,255.45 429.62,257.06 431.62,258.71 433.62,260.38 435.62,262.08 437.61,263.8 439.61,265.54 441.61,267.32 443.61,269.11 445.61,270.94 447.6,272.78 449.6,274.66" fill="none" stroke="#1616b4" stroke-width="1.85" stroke-linejoin="round"/>
<text transform="translate(1.72 12.6) scale(0.9123 1)" style="font-size:19.5px;font-style:italic" class="tx">ESF</text>
<text transform="translate(37.3 12.6)" style="font-size:19.5px" class="tx">/</text>
<text transform="translate(45.91 12.6) scale(1.0115 1)" style="font-size:19.5px" class="tx">PSL</text>
<text transform="translate(129.53 66) scale(1.0289 1)" style="font-size:18.2px;font-style:italic" class="tx">LSF</text>
<text transform="translate(164.2 66)" style="font-size:18.2px" class="tx">/</text>
<text transform="translate(173.35 66) scale(1.0034 1)" style="font-size:18.2px" class="tx">PSL.mm</text>
<text transform="translate(237.93 59.7)" style="font-size:10.0px" class="tx">-</text>
<text transform="translate(243.1 59.8)" style="font-size:10.3px" class="tx">1</text>
<text transform="translate(470.59 282.1) scale(1.0686 1)" style="font-size:17.5px;font-style:italic" class="tx">z</text>
<text transform="translate(482.6 282.1)" style="font-size:17.5px" class="tx">/</text>
<text transform="translate(491.74 282.1) scale(1.0301 1)" style="font-size:17.5px" class="tx">mm</text>
<line x1="391.9" y1="20.4" x2="416.1" y2="20.4" stroke="#dd1414" stroke-width="2.9"/>
<line x1="391.9" y1="49.5" x2="416.1" y2="49.5" stroke="#000" stroke-width="2.9"/>
<line x1="367.6" y1="129.2" x2="391.8" y2="129.2" stroke="#e6782a" stroke-width="2.9"/>
<line x1="368.2" y1="159.3" x2="393.2" y2="159.3" stroke="#22e022" stroke-width="2.9"/>
<line x1="367.4" y1="191.5" x2="391.8" y2="191.5" stroke="#1a1ab4" stroke-width="2.9"/>
<text transform="translate(421.79 25) scale(0.9452 1)" style="font-size:18px;font-style:italic" class="tx">Raw</text>
<text transform="translate(457.14 25) scale(1.0299 1)" style="font-size:18px;font-style:italic" class="tx">data</text>
<text transform="translate(425.38 54) scale(0.9946 1)" style="font-size:18px;font-style:italic" class="tx">Double</text>
<text transform="translate(425.04 75) scale(1.0500 1)" style="font-size:18px;font-style:italic" class="tx">Error</text>
<text transform="translate(424.08 97) scale(0.9706 1)" style="font-size:18px;font-style:italic" class="tx">function</text>
<text transform="translate(488.08 97) scale(0.9722 1)" style="font-size:18px;font-style:italic" class="tx">fit</text>
<text transform="translate(397.52 133) scale(1.0239 1)" style="font-size:18px;font-style:italic" class="tx">Big source</text>
<text transform="translate(398.77 164) scale(1.0227 1)" style="font-size:18px;font-style:italic" class="tx">Small source</text>
<text transform="translate(400.18 197) scale(0.9897 1)" style="font-size:18px;font-style:italic" class="tx">System</text>
</svg>
</body></html>
